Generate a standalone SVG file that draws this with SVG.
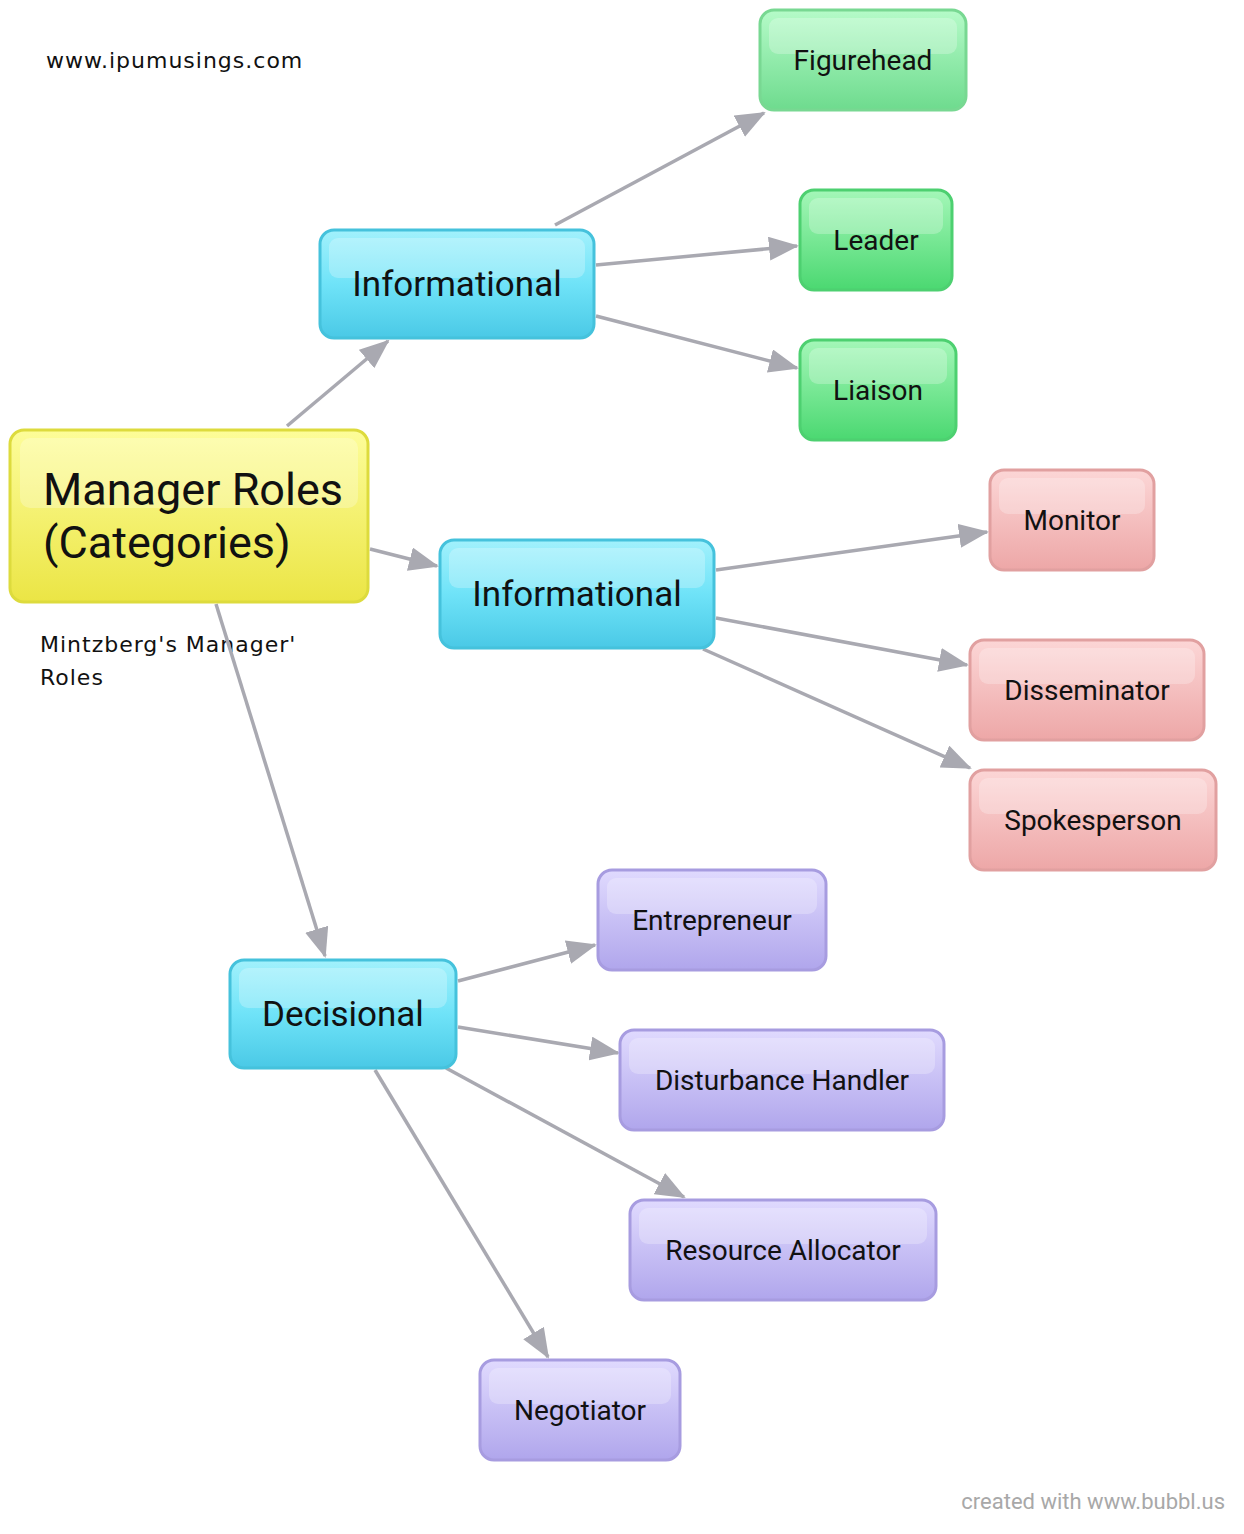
<svg xmlns="http://www.w3.org/2000/svg" width="1244" height="1534" viewBox="0 0 1244 1534">
<style>
.t{font-family:Roboto,"Liberation Sans",sans-serif;fill:#111;text-anchor:middle}
.b{font-size:35px}.s{font-size:28px}
.hl{fill:#fff;opacity:0.25}
.e{stroke:#a9a9b1;stroke-width:3.5;fill:none;marker-end:url(#ah)}
.n{stroke-width:3}
</style>
<defs>
<marker id="ah" markerUnits="userSpaceOnUse" markerWidth="30" markerHeight="24" refX="28" refY="12" orient="auto"><path d="M0,0L30,12L0,24z" fill="#a9a9b1"/></marker>
<linearGradient id="gy" x1="0" y1="0" x2="0" y2="1"><stop offset="0" stop-color="#fdfd9a"/><stop offset="1" stop-color="#ebe545"/></linearGradient>
<linearGradient id="gb" x1="0" y1="0" x2="0" y2="1"><stop offset="0" stop-color="#a2f1fc"/><stop offset="0.5" stop-color="#6fe3f8"/><stop offset="1" stop-color="#4ac9e6"/></linearGradient>
<linearGradient id="gg" x1="0" y1="0" x2="0" y2="1"><stop offset="0" stop-color="#b5fbc8"/><stop offset="1" stop-color="#6edb8e"/></linearGradient>
<linearGradient id="gg2" x1="0" y1="0" x2="0" y2="1"><stop offset="0" stop-color="#a4f7b8"/><stop offset="1" stop-color="#4bd871"/></linearGradient>
<linearGradient id="gr" x1="0" y1="0" x2="0" y2="1"><stop offset="0" stop-color="#fcd6d6"/><stop offset="1" stop-color="#eda7a7"/></linearGradient>
<linearGradient id="gp" x1="0" y1="0" x2="0" y2="1"><stop offset="0" stop-color="#e0dafe"/><stop offset="1" stop-color="#b0a6ec"/></linearGradient>
</defs>
<text x="46" y="68" font-family="DejaVu Sans,sans-serif" font-size="22" letter-spacing="1" fill="#111">www.ipumusings.com</text>
<text x="40" y="652" font-family="DejaVu Sans,sans-serif" font-size="22" letter-spacing="1" fill="#111">Mintzberg's Manager'</text>
<text x="40" y="685" font-family="DejaVu Sans,sans-serif" font-size="22" letter-spacing="1" fill="#111">Roles</text>
<text x="1225" y="1509" font-family="Roboto,sans-serif" font-size="22" fill="#a8a8a8" text-anchor="end">created with www.bubbl.us</text>
<g id="edges">
<line class="e" x1="287" y1="426" x2="388" y2="341"/>
<line class="e" x1="555" y1="225" x2="764" y2="113"/>
<line class="e" x1="596" y1="265" x2="797" y2="246"/>
<line class="e" x1="596" y1="316" x2="797" y2="368"/>
<line class="e" x1="370" y1="549" x2="437" y2="566"/>
<line class="e" x1="716" y1="570" x2="987" y2="532"/>
<line class="e" x1="716" y1="618" x2="967" y2="665"/>
<line class="e" x1="703" y1="649" x2="970" y2="768"/>
<line class="e" x1="216" y1="604" x2="325" y2="956"/>
<line class="e" x1="458" y1="981" x2="595" y2="945"/>
<line class="e" x1="458" y1="1027" x2="618" y2="1053"/>
<line class="e" x1="446" y1="1068" x2="684" y2="1197"/>
<line class="e" x1="375" y1="1070" x2="548" y2="1357"/>
</g>
<g id="root"><rect class="n" x="10" y="430" width="358" height="172" rx="14" fill="url(#gy)" stroke="#dddb3d"/><rect class="hl" x="20" y="438" width="338" height="70" rx="10"/><text x="43" y="505" font-family="Roboto,sans-serif" font-size="45" fill="#111">Manager Roles</text><text x="43" y="558" font-family="Roboto,sans-serif" font-size="45" fill="#111">(Categories)</text></g>
<g id="info1"><rect class="n" x="320" y="230" width="274" height="108" rx="14" fill="url(#gb)" stroke="#45c2dc"/><rect class="hl" x="329" y="238" width="256" height="40" rx="9"/><text class="t b" x="457" y="296">Informational</text></g>
<g id="info2"><rect class="n" x="440" y="540" width="274" height="108" rx="14" fill="url(#gb)" stroke="#45c2dc"/><rect class="hl" x="449" y="548" width="256" height="40" rx="9"/><text class="t b" x="577" y="606">Informational</text></g>
<g id="decisional"><rect class="n" x="230" y="960" width="226" height="108" rx="14" fill="url(#gb)" stroke="#45c2dc"/><rect class="hl" x="239" y="968" width="208" height="40" rx="9"/><text class="t b" x="343" y="1026">Decisional</text></g>
<g id="figurehead"><rect class="n" x="760" y="10" width="206" height="100" rx="14" fill="url(#gg)" stroke="#78d892"/><rect class="hl" x="769" y="18" width="188" height="36" rx="9"/><text class="t s" x="863" y="70">Figurehead</text></g>
<g id="leader"><rect class="n" x="800" y="190" width="152" height="100" rx="14" fill="url(#gg2)" stroke="#4dd070"/><rect class="hl" x="809" y="198" width="134" height="36" rx="9"/><text class="t s" x="876" y="250">Leader</text></g>
<g id="liaison"><rect class="n" x="800" y="340" width="156" height="100" rx="14" fill="url(#gg2)" stroke="#4dd070"/><rect class="hl" x="809" y="348" width="138" height="36" rx="9"/><text class="t s" x="878" y="400">Liaison</text></g>
<g id="monitor"><rect class="n" x="990" y="470" width="164" height="100" rx="14" fill="url(#gr)" stroke="#e1a0a0"/><rect class="hl" x="999" y="478" width="146" height="36" rx="9"/><text class="t s" x="1072" y="530">Monitor</text></g>
<g id="disseminator"><rect class="n" x="970" y="640" width="234" height="100" rx="14" fill="url(#gr)" stroke="#e1a0a0"/><rect class="hl" x="979" y="648" width="216" height="36" rx="9"/><text class="t s" x="1087" y="700">Disseminator</text></g>
<g id="spokesperson"><rect class="n" x="970" y="770" width="246" height="100" rx="14" fill="url(#gr)" stroke="#e1a0a0"/><rect class="hl" x="979" y="778" width="228" height="36" rx="9"/><text class="t s" x="1093" y="830">Spokesperson</text></g>
<g id="entrepreneur"><rect class="n" x="598" y="870" width="228" height="100" rx="14" fill="url(#gp)" stroke="#a79ce0"/><rect class="hl" x="607" y="878" width="210" height="36" rx="9"/><text class="t s" x="712" y="930">Entrepreneur</text></g>
<g id="disturbance"><rect class="n" x="620" y="1030" width="324" height="100" rx="14" fill="url(#gp)" stroke="#a79ce0"/><rect class="hl" x="629" y="1038" width="306" height="36" rx="9"/><text class="t s" x="782" y="1090">Disturbance Handler</text></g>
<g id="resource"><rect class="n" x="630" y="1200" width="306" height="100" rx="14" fill="url(#gp)" stroke="#a79ce0"/><rect class="hl" x="639" y="1208" width="288" height="36" rx="9"/><text class="t s" x="783" y="1260">Resource Allocator</text></g>
<g id="negotiator"><rect class="n" x="480" y="1360" width="200" height="100" rx="14" fill="url(#gp)" stroke="#a79ce0"/><rect class="hl" x="489" y="1368" width="182" height="36" rx="9"/><text class="t s" x="580" y="1420">Negotiator</text></g>
</svg>
